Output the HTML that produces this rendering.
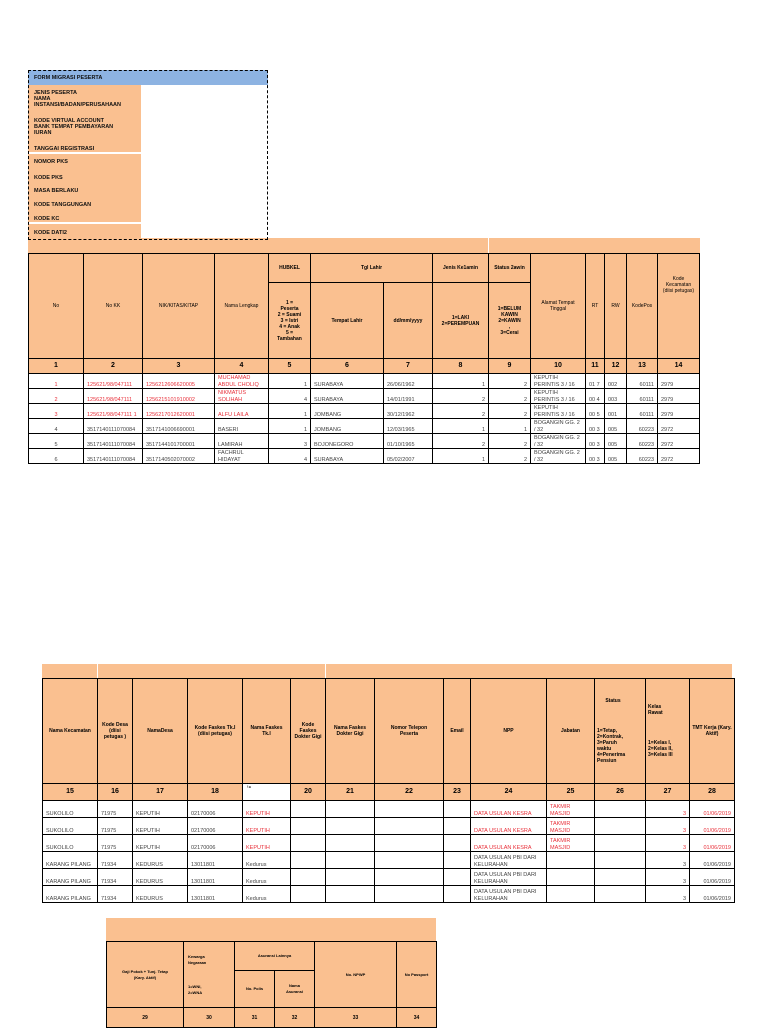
<!DOCTYPE html>
<html><head><meta charset="utf-8"><style>
body{margin:0;width:768px;height:1024px;background:#fff;position:relative;overflow:hidden;font-family:"Liberation Sans",sans-serif;}
.a{position:absolute}
.o{background:#fac090}
table{position:absolute;border-collapse:collapse;table-layout:fixed}
td{border:1px solid #000;padding:0 3px;font-size:5.5px;line-height:6.5px;overflow:hidden;text-align:center;vertical-align:bottom}
th{border:1px solid #000;background:#fac090;font-size:5px;font-weight:bold;line-height:6px;padding:0 4px;vertical-align:middle}
.n th{font-size:7px;line-height:8px}
td{color:#444}
td.l{text-align:left}td.r{text-align:right}
.red{color:#e8303a}
.lbl{position:absolute;left:34px;font-size:5.5px;font-weight:bold;color:#111;line-height:6px}
</style></head><body>
<div class="a" style="left:28px;top:70px;width:240px;height:15px;background:#8db3e2"></div>
<div class="a o" style="left:28px;top:85px;width:113px;height:67px"></div>
<div class="a o" style="left:28px;top:154px;width:113px;height:68px"></div>
<div class="a o" style="left:28px;top:224px;width:113px;height:15px"></div>
<div class="a" style="left:28px;top:70px;width:240px;height:170px;border:1px dashed #000;box-sizing:border-box;z-index:2"></div>
<div class="lbl" style="top:75px">FORM MIGRASI PESERTA</div>
<div class="lbl" style="top:90px">JENIS PESERTA<br>NAMA<br>INSTANSI/BADAN/PERUSAHAAN</div>
<div class="lbl" style="top:118px">KODE VIRTUAL ACCOUNT<br>BANK TEMPAT PEMBAYARAN<br>IURAN</div>
<div class="lbl" style="top:146px">TANGGAI REGISTRASI</div>
<div class="lbl" style="top:159px">NOMOR PKS</div>
<div class="lbl" style="top:175px">KODE PKS</div>
<div class="lbl" style="top:188px">MASA BERLAKU</div>
<div class="lbl" style="top:202px">KODE TANGGUNGAN</div>
<div class="lbl" style="top:216px">KODE KC</div>
<div class="lbl" style="top:230px">KODE DATI2</div>

<div class="a o" style="left:28px;top:238px;width:672px;height:15px"></div>
<div class="a" style="left:488px;top:238px;width:1px;height:15px;background:#fff"></div>
<table style="left:28px;top:253px;width:671px">
<colgroup><col style="width:55px"><col style="width:59px"><col style="width:72px"><col style="width:54px"><col style="width:42px"><col style="width:73px"><col style="width:49px"><col style="width:56px"><col style="width:42px"><col style="width:55px"><col style="width:19px"><col style="width:22px"><col style="width:31px"><col style="width:42px"></colgroup>
<tr style="height:29px"><th rowspan="2" style="font-weight:normal">No</th><th rowspan="2" style="font-weight:normal">No KK</th><th rowspan="2" style="font-weight:normal">NIK/KITAS/KITAP</th><th rowspan="2" style="font-weight:normal">Nama Lengkap</th><th>HUBKEL</th><th colspan="2">Tgl Lahir</th><th>Jenis Ke1amin</th><th>Status 2awin</th><th rowspan="2" style="font-weight:normal">Alamat Tempat Tinggal</th><th rowspan="2" style="font-weight:normal;padding:0">RT</th><th rowspan="2" style="font-weight:normal;padding:0">RW</th><th rowspan="2" style="font-weight:normal;padding:0">KodePos</th><th rowspan="2" style="font-weight:normal;vertical-align:top;padding-top:22px">Kode Kecamatan (diisi petugas)</th></tr>
<tr style="height:76px"><th>1 =<br>Peserta<br>2 = Suami<br>3 = Istri<br>4 = Anak<br>5 =<br>Tambahan</th><th>Tempat Lahir</th><th>dd/mm/yyyy</th><th>1=LAKI<br>2=PEREMPUAN</th><th>1=BELUM KAWIN<br>2=KAWIN<br>,<br>3=Cerai</th></tr>
<tr class="n" style="height:15px"><th>1</th><th>2</th><th>3</th><th>4</th><th>5</th><th>6</th><th>7</th><th>8</th><th>9</th><th>10</th><th>11</th><th>12</th><th>13</th><th>14</th></tr>
<tr style="height:15px"><td class="red">1</td><td class="l red">125621/98/047111</td><td class="l red">1256212606620005</td><td class="l red">MUCHAMAD ABDUL CHOLIQ</td><td class="r">1</td><td class="l">SURABAYA</td><td class="l">26/06/1962</td><td class="r">1</td><td class="r">2</td><td class="l">KEPUTIH PERINTIS 3 / 16</td><td class="l">01 7</td><td class="l">002</td><td class="r">60111</td><td class="l">2979</td></tr>
<tr style="height:15px"><td class="red">2</td><td class="l red">125621/98/047111</td><td class="l red">1256215101910002</td><td class="l red">NIKMATUS SOLIHAH</td><td class="r">4</td><td class="l">SURABAYA</td><td class="l">14/01/1991</td><td class="r">2</td><td class="r">2</td><td class="l">KEPUTIH PERINTIS 3 / 16</td><td class="l">00 4</td><td class="l">003</td><td class="r">60111</td><td class="l">2979</td></tr>
<tr style="height:15px"><td class="red">3</td><td class="l red">125621/98/047111 1</td><td class="l red">1256217012620001</td><td class="l red">ALFU LAILA</td><td class="r">1</td><td class="l">JOMBANG</td><td class="l">30/12/1962</td><td class="r">2</td><td class="r">2</td><td class="l">KEPUTIH PERINTIS 3 / 16</td><td class="l">00 5</td><td class="l">001</td><td class="r">60111</td><td class="l">2979</td></tr>
<tr style="height:15px"><td>4</td><td class="l">3517140111070084</td><td class="l">3517141006690001</td><td class="l">BASERI</td><td class="r">1</td><td class="l">JOMBANG</td><td class="l">12/03/1965</td><td class="r">1</td><td class="r">1</td><td class="l">BOGANGIN GG. 2 / 32</td><td class="l">00 3</td><td class="l">005</td><td class="r">60223</td><td class="l">2972</td></tr>
<tr style="height:15px"><td>5</td><td class="l">3517140111070084</td><td class="l">3517144101700001</td><td class="l">LAMIRAH</td><td class="r">3</td><td class="l">BOJONEGORO</td><td class="l">01/10/1965</td><td class="r">2</td><td class="r">2</td><td class="l">BOGANGIN GG. 2 / 32</td><td class="l">00 3</td><td class="l">005</td><td class="r">60223</td><td class="l">2972</td></tr>
<tr style="height:15px"><td>6</td><td class="l">3517140111070084</td><td class="l">3517140502070002</td><td class="l">FACHRUL HIDAYAT</td><td class="r">4</td><td class="l">SURABAYA</td><td class="l">05/02/2007</td><td class="r">1</td><td class="r">2</td><td class="l">BOGANGIN GG. 2 / 32</td><td class="l">00 3</td><td class="l">005</td><td class="r">60223</td><td class="l">2972</td></tr>
</table>

<div class="a o" style="left:42px;top:664px;width:690px;height:14px"></div>
<div class="a" style="left:97px;top:664px;width:1px;height:14px;background:#fff"></div>
<div class="a" style="left:325px;top:664px;width:1px;height:14px;background:#fff"></div>
<table style="left:42px;top:678px;width:692px">
<colgroup><col style="width:55px"><col style="width:35px"><col style="width:55px"><col style="width:55px"><col style="width:48px"><col style="width:35px"><col style="width:49px"><col style="width:69px"><col style="width:27px"><col style="width:76px"><col style="width:48px"><col style="width:51px"><col style="width:44px"><col style="width:45px"></colgroup>
<tr style="height:105px"><th>Nama Kecamatan</th><th>Kode Desa (diisi petugas )</th><th>NamaDesa</th><th>Kode Faskes Tk.I (diisi petugas)</th><th>Nama Faskes Tk.I</th><th style="padding:0 2px">Kode Faskes Dokter Gigi</th><th>Nama Faskes Dokter Gigi</th><th style="padding:0 10px">Nomor Telepon Peserta</th><th style="padding:0 1px">Email</th><th>NPP</th><th>Jabatan</th><th style="text-align:left;padding:0 2px">&nbsp;&nbsp;&nbsp;&nbsp;&nbsp;&nbsp;Status<br><br><br><br><br>1=Tetap,<br>2=Kontrak,<br>3=Paruh<br>waktu<br>4=Penerima<br>Pensiun</th><th style="text-align:left;padding:0 2px">Kelas<br>Rawat<br><br><br><br><br>1=Kelas I,<br>2=Kelas II,<br>3=Kelas III</th><th style="padding:0 2px">TMT Kerja (Kary. Aktif)</th></tr>
<tr class="n" style="height:17px"><th>15</th><th>16</th><th>17</th><th>18</th><th style="background:#fff;vertical-align:top;text-align:left;font-size:5px">¹⁹</th><th>20</th><th>21</th><th>22</th><th>23</th><th>24</th><th>25</th><th>26</th><th>27</th><th>28</th></tr>
<tr style="height:17px"><td class="l">SUKOLILO</td><td class="l">71975</td><td class="l">KEPUTIH</td><td class="l">02170006</td><td class="l red">KEPUTIH</td><td></td><td></td><td></td><td></td><td class="l red">DATA USULAN KESRA</td><td class="l red">TAKMIR MASJID</td><td></td><td class="r red">3</td><td class="r red">01/06/2019</td></tr>
<tr style="height:17px"><td class="l">SUKOLILO</td><td class="l">71975</td><td class="l">KEPUTIH</td><td class="l">02170006</td><td class="l red">KEPUTIH</td><td></td><td></td><td></td><td></td><td class="l red">DATA USULAN KESRA</td><td class="l red">TAKMIR MASJID</td><td></td><td class="r red">3</td><td class="r red">01/06/2019</td></tr>
<tr style="height:17px"><td class="l">SUKOLILO</td><td class="l">71975</td><td class="l">KEPUTIH</td><td class="l">02170006</td><td class="l red">KEPUTIH</td><td></td><td></td><td></td><td></td><td class="l red">DATA USULAN KESRA</td><td class="l red">TAKMIR MASJID</td><td></td><td class="r red">3</td><td class="r red">01/06/2019</td></tr>
<tr style="height:17px"><td class="l">KARANG PILANG</td><td class="l">71934</td><td class="l">KEDURUS</td><td class="l">13011801</td><td class="l">Kedurus</td><td></td><td></td><td></td><td></td><td class="l">DATA USULAN PBI DARI KELURAHAN</td><td></td><td></td><td class="r">3</td><td class="r">01/06/2019</td></tr>
<tr style="height:17px"><td class="l">KARANG PILANG</td><td class="l">71934</td><td class="l">KEDURUS</td><td class="l">13011801</td><td class="l">Kedurus</td><td></td><td></td><td></td><td></td><td class="l">DATA USULAN PBI DARI KELURAHAN</td><td></td><td></td><td class="r">3</td><td class="r">01/06/2019</td></tr>
<tr style="height:17px"><td class="l">KARANG PILANG</td><td class="l">71934</td><td class="l">KEDURUS</td><td class="l">13011801</td><td class="l">Kedurus</td><td></td><td></td><td></td><td></td><td class="l">DATA USULAN PBI DARI KELURAHAN</td><td></td><td></td><td class="r">3</td><td class="r">01/06/2019</td></tr>
</table>

<div class="a o" style="left:106px;top:918px;width:330px;height:23px"></div>
<table style="left:106px;top:941px;width:330px">
<colgroup><col style="width:77px"><col style="width:51px"><col style="width:40px"><col style="width:40px"><col style="width:82px"><col style="width:40px"></colgroup>
<tr style="height:29px"><th rowspan="2" style="font-size:4px">Gaji Pokok + Tunj. Tetap<br>(Kary. Aktif)</th><th rowspan="2" style="font-size:4px;text-align:left">Kewarga<br>Negaraan<br><br><br><br>1=WNI,<br>2=WNA</th><th colspan="2" style="font-size:4px">Asuransi Lainnya</th><th rowspan="2" style="font-size:4px">No. NPWP</th><th rowspan="2" style="font-size:4px">No Passport</th></tr>
<tr style="height:37px"><th style="font-size:4px">No. Polis</th><th style="font-size:4px">Nama<br>Asuransi</th></tr>
<tr class="n" style="height:20px"><th style="font-size:5px">29</th><th style="font-size:5px">30</th><th style="font-size:5px">31</th><th style="font-size:5px">32</th><th style="font-size:5px">33</th><th style="font-size:5px">34</th></tr>
</table>
</body></html>
